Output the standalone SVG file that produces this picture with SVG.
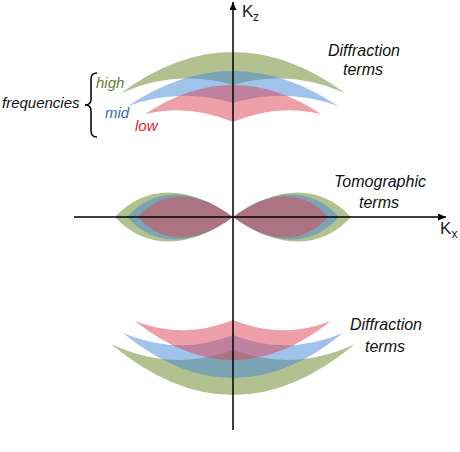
<svg xmlns="http://www.w3.org/2000/svg" width="460" height="452" viewBox="0 0 460 452">
<defs>
<style>
.g{fill:#65831f;fill-opacity:.5}
.b{fill:#4187d7;fill-opacity:.5}
.r{fill:#dd4151;fill-opacity:.5}
.lbl{font-family:"Liberation Sans",Arial,sans-serif;font-style:italic;font-size:16px;fill:#111;text-anchor:middle}
.sm{font-family:"Liberation Sans",Arial,sans-serif;font-style:italic;font-size:15px}
.ax{stroke:#000;stroke-width:1.5;fill:none}
.k{font-family:"Liberation Sans",Arial,sans-serif;font-size:17px;fill:#222}
.ks{font-family:"Liberation Sans",Arial,sans-serif;font-size:12px;fill:#222}
</style>
<marker id="arr" markerWidth="8" markerHeight="7" refX="8" refY="3.5" orient="auto" markerUnits="userSpaceOnUse">
<path d="M0,0 L8,3.5 L0,7 Z" fill="#000"/>
</marker>
<g id="lensL">
<path class="g" d="M115,217 C145,184.3 188,184.3 233,217 C188,249.7 145,249.7 115,217 Z"/>
<path class="b" d="M127,217 C154,187 193,187 233,217 C193,247 154,247 127,217 Z"/>
<path class="r" d="M138,217 C162,189.7 196,189.7 233,217 C196,244.3 162,244.3 138,217 Z"/>
</g>
</defs>
<rect width="460" height="452" fill="#fff"/>
<g id="diffraction-top">
<path class="g" d="M121,93 Q233,11 345,93 Q289,68.5 233,85 Q177,68.5 121,93 Z"/>
<path class="b" d="M128,106 Q233,36 338,106 Q285.5,87 233,103 Q180.5,87 128,106 Z"/>
<path class="r" d="M145,114 Q233,56 321,114 Q277,103.4 233,122 Q189,103.4 145,114 Z"/>
</g>
<g id="tomographic">
<use href="#lensL"/>
<use href="#lensL" transform="translate(466,0) scale(-1,1)"/>
</g>
<g id="diffraction-bottom">
<path class="g" d="M111,344 Q233,446 355,344 Q294,372.5 233,350 Q172,372.5 111,344 Z"/>
<path class="b" d="M123,333 Q233,423 343,333 Q288,356.5 233,335 Q178,356.5 123,333 Z"/>
<path class="r" d="M135,321 Q233,399 331,321 Q282,340 233,320 Q184,340 135,321 Z"/>
</g>
<g id="connectors">
<line class="ax" x1="233" y1="430" x2="233" y2="2" marker-end="url(#arr)"/>
<line class="ax" x1="74" y1="217" x2="446" y2="217" marker-end="url(#arr)"/>
<path class="ax" d="M97,73 Q91,73 91,79 L91,99 Q91,105 85,105 Q91,105 91,111 L91,131 Q91,137 97,137"/>
</g>
<g id="axis-labels">
<text class="k" x="242" y="17">K</text><text class="ks" x="253" y="21">z</text>
<text class="k" x="440" y="234">K</text><text class="ks" x="451.5" y="238">x</text>
</g>
<g id="labels">
<text class="lbl" x="364" y="56">Diffraction</text>
<text class="lbl" x="363" y="74.5">terms</text>
<text class="lbl" x="380" y="187">Tomographic</text>
<text class="lbl" x="379" y="208">terms</text>
<text class="lbl" x="386" y="330">Diffraction</text>
<text class="lbl" x="385" y="352">terms</text>
<text class="sm" x="2" y="108" fill="#111">frequencies</text>
<text class="sm" x="96" y="88" fill="#6b7b35">high</text>
<text class="sm" x="105" y="118" fill="#2f6db0">mid</text>
<text class="sm" x="135" y="131" fill="#e4262f">low</text>
</g>
</svg>
